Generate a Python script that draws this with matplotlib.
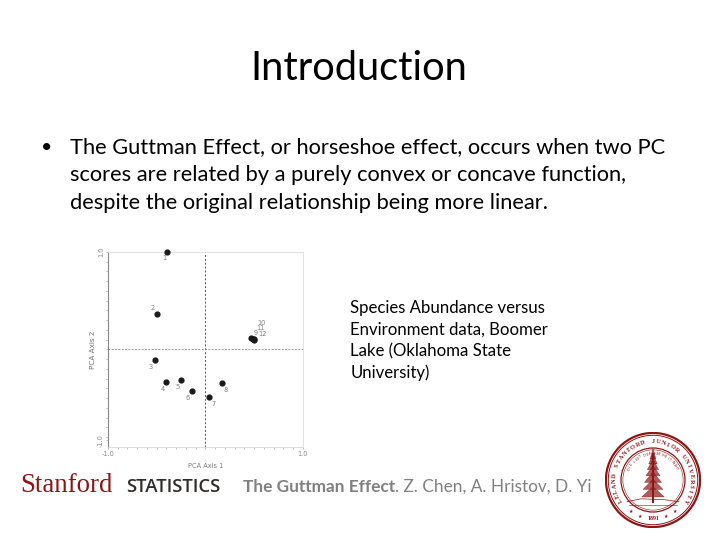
import numpy as np
import matplotlib
matplotlib.use("Agg")
import matplotlib.pyplot as plt
from matplotlib.patches import Circle, Polygon, Rectangle

# ---------------- data ----------------
site_labels = ['1', '2', '3', '4', '5', '6', '7', '8', '9', '10', '11', '12']
pca_axis1 = [-0.39, -0.50, -0.52, -0.40, -0.25, -0.14, 0.04, 0.17, 0.47, 0.485, 0.495, 0.50]
pca_axis2 = [0.995, 0.36, -0.11, -0.33, -0.31, -0.43, -0.49, -0.34, 0.115, 0.11, 0.105, 0.10]
x_tick_labels = ['-1.0', '1.0']
y_tick_labels = ['-1.0', '1.0']

title_text = "Introduction"
bullet_lines = ["The Guttman Effect, or horseshoe effect, occurs when two PC",
                "scores are related by a purely convex or concave function,",
                "despite the original relationship being more linear."]
caption_lines = ["Species Abundance versus", "Environment data, Boomer",
                 "Lake (Oklahoma State", "University)"]

# label offsets in pixels (style only)
label_offsets = [(-3, -6), (-4, 6), (-4, -7), (-4, -7), (-4, -7), (-4, -7),
                 (4, -7), (4, -7), (4, 5), (9, 16), (7, 11), (8, 6)]

W, H = 720, 540
fig = plt.figure(figsize=(7.2, 5.4), dpi=100)
fig.patch.set_facecolor('white')

def fx(x):
    return x / W

def fy(y):
    return 1 - y / H

SANS = ['Lato', 'DejaVu Sans']

def fit(t, target_w):
    fig.canvas.draw()
    bb = t.get_window_extent()
    t.set_fontsize(t.get_fontsize() * target_w / bb.width)
    return t.get_fontsize()

# ---------------- title ----------------
t = fig.text(fx(250), fy(79.5), title_text, family=SANS, fontsize=28,
             va='baseline', ha='left', color='black')
fit(t, 217)

# ---------------- bullet ----------------
fig.text(fx(41), fy(153), u"\u2022", family=SANS, fontsize=14, va='baseline', color='black')
b0 = fig.text(fx(70), fy(153), bullet_lines[0], family=SANS, fontsize=16,
              va='baseline', color='black')
fs = fit(b0, 600)
for i, line in enumerate(bullet_lines[1:], start=1):
    fig.text(fx(70), fy(153 + 27.8 * i), line, family=SANS, fontsize=fs,
             va='baseline', color='black')

# ---------------- caption ----------------
c1 = fig.text(fx(350.5), fy(334.5), caption_lines[1], family=SANS, fontsize=11,
              va='baseline', color='black')
cfs = fit(c1, 197)
for i, line in enumerate(caption_lines):
    if i == 1:
        continue
    fig.text(fx(350.5), fy(312.8 + 21.8 * i), line, family=SANS, fontsize=cfs,
             va='baseline', color='black')

# ---------------- scatter plot ----------------
ax = fig.add_axes([fx(108), fy(447), 195 / W, 195 / H])
ax.set_xlim(-1, 1)
ax.set_ylim(-1, 1)
ax.scatter(pca_axis1, pca_axis2, s=12, color='#1a1a1a', zorder=3, clip_on=False)
for lab, x, y, off in zip(site_labels, pca_axis1, pca_axis2, label_offsets):
    ax.annotate(lab, (x, y), xytext=off, textcoords='offset pixels', fontsize=4.8,
                color='#808080', ha='center', va='center', family='DejaVu Sans')
ax.axvline(0, color='#555555', lw=0.7, ls=(0, (2, 2)))
ax.axhline(0, color='#777777', lw=0.6, ls=(0, (2, 2)))
for s in ['top', 'right']:
    ax.spines[s].set_color('#dddddd')
    ax.spines[s].set_linewidth(0.6)
ax.spines['left'].set_color('#888888')
ax.spines['left'].set_linewidth(0.8)
ax.spines['bottom'].set_color('#d8d8d8')
ax.spines['bottom'].set_linewidth(0.6)
ax.set_xticks([-1, 1])
ax.set_yticks([-0.93, 1])
ax.set_xticklabels(x_tick_labels)
ax.set_yticklabels(y_tick_labels, rotation=90, va='center')
ax.set_xticks(np.arange(-0.9, 0.95, 0.1), minor=True)
ax.set_yticks(np.arange(-0.9, 0.95, 0.1), minor=True)
ax.tick_params(axis='both', which='both', labelsize=4.8, labelcolor='#8a8a8a',
               colors='#aaaaaa', length=1.2, width=0.5, pad=1.5)
ax.tick_params(axis='both', which='major', length=1.5)
ax.set_xlabel('PCA Axis 1', fontsize=4.8, color='#808080', labelpad=4)
ax.set_ylabel('PCA Axis 2', fontsize=5.2, color='#707070', labelpad=1)

# ---------------- footer ----------------
st = fig.text(fx(20), fy(491.7), 'Stanford', family=['Liberation Serif', 'DejaVu Serif'],
              fontsize=16, va='baseline', color='#8C1515')
fit(st, 92)
sta = fig.text(fx(126), fy(491.7), 'STATISTICS', family=['Open Sans', 'DejaVu Sans'],
               fontsize=11, fontweight='semibold', va='baseline', color='#2e2d29')
fit(sta, 94)

fb = fig.text(fx(243), fy(491.7), 'The Guttman Effect', family=SANS, fontsize=11,
              fontweight='bold', va='baseline', color='#808080')
fn = fig.text(fx(390), fy(491.7), '. Z. Chen, A. Hristov, D. Yi', family=SANS, fontsize=11,
              va='baseline', color='#808080')
fig.canvas.draw()
wb = fb.get_window_extent().width
wn = fn.get_window_extent().width
scale = 347.0 / (wb + wn)
fb.set_fontsize(11 * scale)
fn.set_fontsize(11 * scale)
fig.canvas.draw()
fn.set_x(fx(243 + fb.get_window_extent().width))

# ---------------- seal ----------------
red = '#8C1515'
sa = fig.add_axes([fx(605), fy(528), 96 / W, 96 / H])
sa.set_xlim(-1.02, 1.02)
sa.set_ylim(-1.02, 1.02)
sa.set_aspect('equal')
sa.axis('off')
for r, lw in [(1.0, 1.6), (0.95, 0.7), (0.68, 0.9), (0.64, 0.4)]:
    sa.add_patch(Circle((0, 0), r, fill=False, ec=red, lw=lw))
ring = "LELAND STANFORD JUNIOR UNIVERSITY"
angs = np.linspace(212, -32, len(ring))
for ch, a in zip(ring, angs):
    ra = np.deg2rad(a)
    sa.text(0.815 * np.cos(ra), 0.815 * np.sin(ra), ch, rotation=a - 90, fontsize=4.6,
            color=red, ha='center', va='center', family='Liberation Serif',
            fontweight='bold')
for a in [235, 250, 290, 305]:
    ra = np.deg2rad(a)
    sa.text(0.815 * np.cos(ra), 0.815 * np.sin(ra), u"\u2605", fontsize=3.5, color=red,
            ha='center', va='center', family='DejaVu Sans')
sa.text(0, -0.815, '1891', fontsize=4.2, color=red, ha='center', va='center',
        family='Liberation Serif', fontweight='bold')
inner = "DIE LUFT DER FREIHEIT WEHT"
angs2 = np.linspace(155, 25, len(inner))
for ch, a in zip(inner, angs2):
    ra = np.deg2rad(a)
    sa.text(0.555 * np.cos(ra), 0.555 * np.sin(ra), ch, rotation=a - 90, fontsize=2.4,
            color=red, ha='center', va='center', family='DejaVu Sans')
# tree
sa.add_patch(Rectangle((-0.03, -0.48), 0.06, 1.05, color=red, lw=0))
for yb, hw in [(-0.36, 0.24), (-0.20, 0.21), (-0.05, 0.18), (0.09, 0.15),
               (0.22, 0.12), (0.34, 0.09), (0.45, 0.06)]:
    sa.add_patch(Polygon([(-hw, yb), (hw, yb), (0, yb + 0.22)], closed=True,
                         fc=red, ec=red, lw=0.4, alpha=0.7))
sa.plot([-0.55, -0.25, 0.25, 0.55], [-0.46, -0.40, -0.42, -0.46], color=red, lw=0.5)
sa.plot([-0.5, 0.5], [-0.53, -0.53], color=red, lw=0.4)

fig.savefig('out.png', dpi=100)
